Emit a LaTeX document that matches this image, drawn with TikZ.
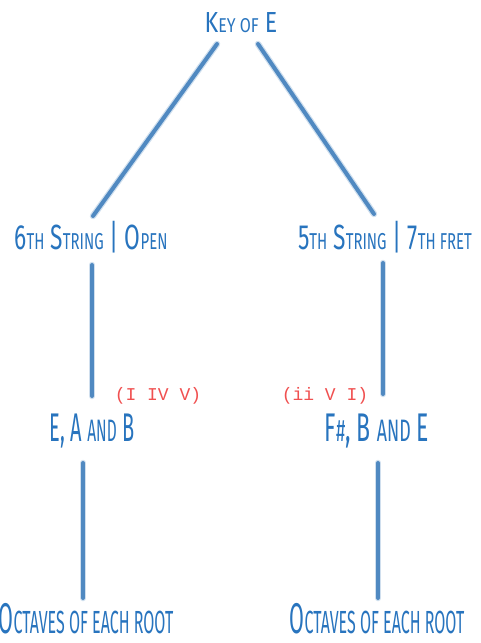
\documentclass[tikz,border=0pt]{standalone}
\usepackage{fontspec}
\usepackage{graphicx}
\setmainfont{Fira Sans}[FakeStretch=0.5]
\newfontfamily\redfont{Liberation Mono}
\newcommand\smc[2]{{\fontsize{#1}{#1}\selectfont #2}}
\newcommand\bigf[1]{\fontsize{#1}{#1}\selectfont}
\definecolor{txtblue}{RGB}{40,116,190}
\definecolor{lineblue}{RGB}{66,128,188}
\definecolor{redtxt}{RGB}{240,80,80}
\tikzset{
  lbl/.style={text=txtblue, inner sep=0pt, anchor=base},
  redlbl/.style={text=redtxt, inner sep=0pt, anchor=base, font=\redfont\fontsize{18}{18}\selectfont},
  conn/.style={draw=lineblue, line width=4pt, line cap=round, opacity=0.9},
  connglow/.style={draw=lineblue, line width=6.5pt, line cap=round, opacity=0.25}
}
\begin{document}
\begin{tikzpicture}[x=1pt,y=-1pt]
\useasboundingbox (0,0) rectangle (480,643);
% labels
\node[lbl] (key) at (241,32) {\scalebox{1.6}[1]{\bigf{29}K\smc{20}{EY OF} E}};
\node[lbl] (s6) at (91,249) {\scalebox{1.3}[1]{\bigf{35}6\smc{23}{TH} S\smc{23}{TRING} | O\smc{23}{PEN}}};
\node[lbl] (s5) at (385,249) {\scalebox{1.3}[1]{\bigf{35}5\smc{23}{TH} S\smc{23}{TRING} | 7\smc{23}{TH FRET}}};
\node[lbl] (eab) at (92,441) {\bigf{40}E, A \smc{31}{AND} B};
\node[lbl] (fbe) at (377,441) {\scalebox{1.15}[1]{\bigf{40}F\smc{31}{\#}, B \smc{31}{AND} E}};
\node[lbl] (oct1) at (86,633) {\bigf{43}O\smc{32}{CTAVES OF EACH ROOT}};
\node[lbl] (oct2) at (377,633) {\bigf{43}O\smc{32}{CTAVES OF EACH ROOT}};
\node[redlbl] (r1) at (158,400) {(I IV V)};
\node[redlbl] (r2) at (325,400) {(ii V I)};
% connector end points
\coordinate (a1) at (217,44);  \coordinate (a2) at (93,216);
\coordinate (b1) at (258,44);  \coordinate (b2) at (374,214);
\coordinate (c1) at (92,265);  \coordinate (c2) at (92,396);
\coordinate (d1) at (383,263); \coordinate (d2) at (383,394);
\coordinate (e1) at (83,463);  \coordinate (e2) at (83,598);
\coordinate (f1) at (378,463); \coordinate (f2) at (378,598);
\foreach \p/\q in {a1/a2,b1/b2,c1/c2,d1/d2,e1/e2,f1/f2}{
  \draw[connglow] (\p) -- (\q);
  \draw[conn] (\p) -- (\q);
}
\end{tikzpicture}
\end{document}
